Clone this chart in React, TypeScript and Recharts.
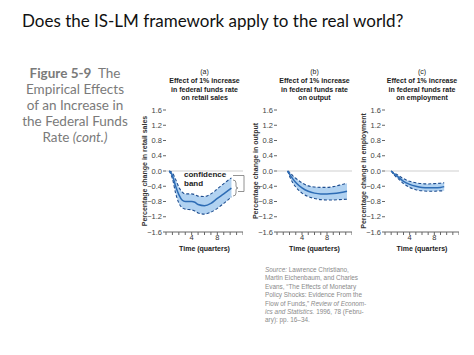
import { ComposedChart, Area, Line, XAxis, YAxis, ReferenceLine } from 'recharts'

// quarters after the rate increase, and the estimated response (mid) with its band
const quartersA = [0.5, 1, 1.5, 2, 2.5, 3, 4, 4.5, 5, 6, 7, 8, 9, 10.2]
const midA = [0, -0.12, -0.4, -0.62, -0.76, -0.8, -0.8, -0.82, -0.88, -0.91, -0.85, -0.72, -0.6, -0.45]
const upperA = [0, -0.05, -0.22, -0.42, -0.55, -0.6, -0.6, -0.62, -0.66, -0.67, -0.6, -0.47, -0.33, -0.18]
const lowerA = [0, -0.2, -0.58, -0.84, -0.96, -1.0, -1.02, -1.05, -1.1, -1.13, -1.08, -0.98, -0.85, -0.68]

const quartersB = [1.7, 2, 2.5, 3, 4, 5, 6, 7, 8, 9, 10, 11.2]
const midB = [0, -0.08, -0.2, -0.3, -0.44, -0.53, -0.58, -0.6, -0.6, -0.59, -0.57, -0.53]
const upperB = [0, -0.03, -0.12, -0.19, -0.31, -0.39, -0.42, -0.43, -0.43, -0.41, -0.37, -0.32]
const lowerB = [0, -0.13, -0.3, -0.42, -0.58, -0.67, -0.72, -0.75, -0.76, -0.76, -0.75, -0.74]

const quartersC = [1, 1.5, 2, 3, 4, 5, 6, 7, 8, 9, 9.6]
const midC = [0, -0.08, -0.14, -0.27, -0.35, -0.4, -0.43, -0.44, -0.44, -0.43, -0.41]
const upperC = [0, -0.05, -0.1, -0.2, -0.27, -0.31, -0.33, -0.34, -0.33, -0.32, -0.31]
const lowerC = [0, -0.11, -0.18, -0.33, -0.43, -0.49, -0.52, -0.53, -0.53, -0.52, -0.52]

const yTicks = [-1.6, -1.2, -0.8, -0.4, 0, 0.4, 0.8, 1.2, 1.6]
const xTicks = [0, 1, 2, 3, 4, 5, 6, 7, 8, 9, 10, 11, 12]
const xLabelled = [4, 8]

const captionLines = ['Empirical Effects', 'of an Increase in', 'the Federal Funds']

const build = (q: number[], mid: number[], up: number[], lo: number[]) =>
  q.map((x, i) => ({ q: x, mid: mid[i], upper: up[i], lower: lo[i], band: [lo[i], up[i]] }))

const panels = [
  { key: 'a', tag: '(a)', what: 'on retail sales', ylabel: 'Percentage change in retail sales', left: 140, width: 103, data: build(quartersA, midA, upperA, lowerA) },
  { key: 'b', tag: '(b)', what: 'on output', ylabel: 'Percentage change in output', left: 251, width: 101, data: build(quartersB, midB, upperB, lowerB) },
  { key: 'c', tag: '(c)', what: 'on employment', ylabel: 'Percentage change in employment', left: 359, width: 100, data: build(quartersC, midC, upperC, lowerC) },
]

const fmtY = (v: number) => (v < 0 ? '\u2212' + Math.abs(v).toFixed(1) : v.toFixed(1))

const sans = 'Liberation Sans, Arial, sans-serif'
const FILL = '#a9cdf0'
const SOLID = '#2d6cb5'
const DASH = '#1e4d8f'

function Panel({ p }: { p: (typeof panels)[number] }) {
  const plotCenter = p.left + 26 + (p.width - 26) / 2
  return (
    <>
      <div style={{ position: 'absolute', left: plotCenter - 60, top: 68, width: 120, textAlign: 'center', fontFamily: sans, fontSize: 7, lineHeight: '8.8px', color: '#222' }}>
        <div style={{ fontWeight: 400 }}>{p.tag}</div>
        <div style={{ fontWeight: 700 }}>Effect of 1% increase</div>
        <div style={{ fontWeight: 700 }}>in federal funds rate</div>
        <div style={{ fontWeight: 700 }}>{p.what}</div>
      </div>
      <div style={{ position: 'absolute', left: p.left + 5 - 70, top: 171 - 5, width: 140, height: 10, textAlign: 'center', transform: 'rotate(-90deg)', fontFamily: sans, fontSize: 7, fontWeight: 700, color: '#333', lineHeight: '10px', whiteSpace: 'nowrap' }}>
        {p.ylabel}
      </div>
      <div style={{ position: 'absolute', left: p.left, top: 104 }}>
        <ComposedChart width={p.width} height={150} data={p.data} margin={{ top: 6, right: 0, bottom: 0, left: 0 }}>
          <XAxis
            type="number"
            dataKey="q"
            domain={[0, 12]}
            ticks={xTicks}
            interval={0}
            tickFormatter={(v: number) => (xLabelled.includes(v) ? String(v) : '')}
            tickSize={3}
            tickMargin={0}
            height={22}
            axisLine={{ stroke: '#666' }}
            tickLine={{ stroke: '#666' }}
            tick={{ fontSize: 7.5, fill: '#333', fontFamily: sans }}
            label={{ value: 'Time (quarters)', position: 'insideBottom', offset: 3, style: { fontSize: 7, fontWeight: 700, fill: '#222', fontFamily: sans } }}
          />
          <YAxis
            type="number"
            domain={[-1.6, 1.6]}
            ticks={yTicks}
            interval={0}
            width={26}
            axisLine={false}
            tickSize={3}
            tickMargin={1}
            tickLine={{ stroke: '#666' }}
            tick={{ fontSize: 7.5, fill: '#444', fontFamily: sans }}
            tickFormatter={fmtY}
          />
          <ReferenceLine y={0} stroke="#cfcfcf" strokeWidth={1.2} />
          <Area dataKey="band" type="monotone" fill={FILL} fillOpacity={0.9} stroke="none" isAnimationActive={false} />
          <Line dataKey="upper" type="monotone" stroke={DASH} strokeWidth={1.1} strokeDasharray="3 2" dot={false} isAnimationActive={false} />
          <Line dataKey="lower" type="monotone" stroke={DASH} strokeWidth={1.1} strokeDasharray="3 2" dot={false} isAnimationActive={false} />
          <Line dataKey="mid" type="monotone" stroke={SOLID} strokeWidth={1.5} dot={false} isAnimationActive={false} />
        </ComposedChart>
      </div>
    </>
  )
}

export default function App() {
  return (
    <div style={{ position: 'absolute', left: 0, top: 0, width: 474, height: 355, background: '#fff', overflow: 'hidden' }}>
      <div style={{ position: 'absolute', left: 22, top: 10, fontFamily: 'Lato, sans-serif', fontSize: 17, color: '#111', whiteSpace: 'nowrap' }}>
        Does the IS-LM framework apply to the real world?
      </div>
      <div style={{ position: 'absolute', left: 0, top: 65, width: 150, textAlign: 'center', fontFamily: 'Lato, sans-serif', fontSize: 13.5, lineHeight: '16px', color: '#7a7a7a' }}>
        <div>
          <b>Figure 5-9</b>&nbsp; The
        </div>
        {captionLines.map((t) => (
          <div key={t}>{t}</div>
        ))}
        <div>
          Rate <i>(cont.)</i>
        </div>
      </div>
      {panels.map((p) => (
        <Panel key={p.key} p={p} />
      ))}
      {/* confidence band callout */}
      <div style={{ position: 'absolute', left: 184, top: 170, fontFamily: sans, fontSize: 8, fontWeight: 700, lineHeight: '9px', color: '#222' }}>
        <div>confidence</div>
        <div>band</div>
      </div>
      <svg style={{ position: 'absolute', left: 0, top: 0 }} width={474} height={355}>
        <polyline points="233,175.5 244,175.5 244,191.5 238,191.5" fill="none" stroke="#777" strokeWidth={0.8} />
        <path d="M233,180 q3,0 3,3 v3 q0,2 2,2 q-2,0 -2,2 v3 q0,3 -3,3" fill="none" stroke="#777" strokeWidth={0.8} />
      </svg>
      <div style={{ position: 'absolute', left: 265, top: 266, fontFamily: sans, fontSize: 6.4, lineHeight: '8.4px', color: '#8a8a8a', whiteSpace: 'nowrap' }}>
        <div>
          <i>Source:</i> Lawrence Christiano,
        </div>
        <div>Martin Eichenbaum, and Charles</div>
        <div>Evans, “The Effects of Monetary</div>
        <div>Policy Shocks: Evidence From the</div>
        <div>
          Flow of Funds,” <i>Review of Econom-</i>
        </div>
        <div>
          <i>ics and Statistics.</i> 1996, 78 (Febru-
        </div>
        <div>ary): pp. 16–34.</div>
      </div>
    </div>
  )
}
